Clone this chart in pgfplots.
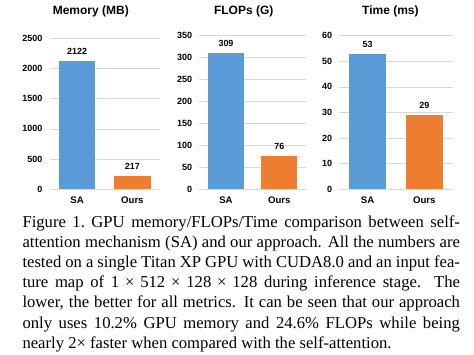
\documentclass[border=0pt]{standalone}
\usepackage{fontspec}
\setmainfont{Liberation Serif}
\newfontfamily\arial{Liberation Sans}
\usepackage{pgfplots}
\pgfplotsset{compat=1.18}
\definecolor{sablue}{HTML}{5B9BD5}
\definecolor{ourorange}{HTML}{ED7D31}
\definecolor{gridgray}{HTML}{D9D9D9}
\newcommand\tm{\hspace{0.22em plus 0.11em minus 0.1em}×\hspace{0.22em plus 0.11em minus 0.1em}}
\pgfkeys{/pgf/number format/.cd,1000 sep={}}
\pgfplotsset{
  minichart/.style={
    scale only axis,
    anchor=south west,
    ybar,
    xmin=-0.5, xmax=1.5, xtick={0,1}, xticklabels={SA,Ours},
    ymin=0,
    axis line style={draw=none},
    major tick length=0pt,
    ymajorgrids, grid style={gridgray, line width=0.7pt},
    /pgf/number format/assume math mode=true,
    /pgf/number format/1000 sep={},
    scaled y ticks=false,
    yticklabel style={font=\arial\bfseries\fontsize{9}{10}\selectfont, inner sep=0pt, xshift=-7pt, anchor=east},
    xticklabel style={font=\arial\bfseries\fontsize{9.6}{10}\selectfont, anchor=base, yshift=-14.7pt},
    nodes near coords,
    every node near coord/.append style={font=\arial\bfseries\fontsize{8.9}{10}\selectfont, inner sep=0pt, yshift=6pt, text=black},
    title style={font=\arial\bfseries\fontsize{12}{14}\selectfont, anchor=base},
  }
}
\begin{document}
\begin{tikzpicture}
\useasboundingbox (0,0) rectangle (474pt,354pt);
% Memory
\begin{axis}[minichart, at={(49.5pt,164.7pt)}, width=110.5pt, height=151pt,
  ymax=2500, ytick={0,500,1000,1500,2000,2500}, bar width=36.7pt,
  title={Memory (MB)}, title style={at={(axis description cs:0.374,1)}, yshift=17.6pt}]
\addplot[fill=sablue, draw=none, bar shift=0pt] coordinates {(0,2122)};
\addplot[fill=ourorange, draw=none, bar shift=0pt] coordinates {(1,217)};
\end{axis}
% FLOPs
\begin{axis}[minichart, at={(199.3pt,164.7pt)}, width=106.7pt, height=154.3pt,
  ymax=350, ytick={0,50,100,150,200,250,300,350}, bar width=35.7pt,
  title={FLOPs (G)}, title style={at={(axis description cs:0.416,1)}, yshift=14.3pt}]
\addplot[fill=sablue, draw=none, bar shift=0pt] coordinates {(0,309)};
\addplot[fill=ourorange, draw=none, bar shift=0pt] coordinates {(1,76)};
\end{axis}
% Time
\begin{axis}[minichart, at={(339.3pt,164.7pt)}, width=113.4pt, height=153.6pt,
  ymax=60, ytick={0,10,20,30,40,50,60}, bar width=37.3pt,
  title={Time (ms)}, title style={at={(axis description cs:0.451,1)}, yshift=15pt}]
\addplot[fill=sablue, draw=none, bar shift=0pt] coordinates {(0,53)};
\addplot[fill=ourorange, draw=none, bar shift=0pt] coordinates {(1,29)};
\end{axis}
\node[anchor=base west, inner sep=0pt] at (22.3pt,126.7pt) {\parbox[t]{437.5pt}{\fontsize{16.65}{20.17}\selectfont
Figure 1.\ GPU memory/FLOPs/Time comparison between self-\linebreak attention mechanism (SA) and our approach. All the numbers are\linebreak tested on a single Titan XP GPU with CUDA8.0 and an input fea-\linebreak ture map of 1\tm 512\tm 128\tm 128 during inference stage. The\linebreak lower, the better for all metrics. It can be seen that our approach\linebreak only uses 10.2\% GPU memory and 24.6\% FLOPs while being\linebreak nearly 2× faster when compared with the self-attention.}};
\end{tikzpicture}
\end{document}
